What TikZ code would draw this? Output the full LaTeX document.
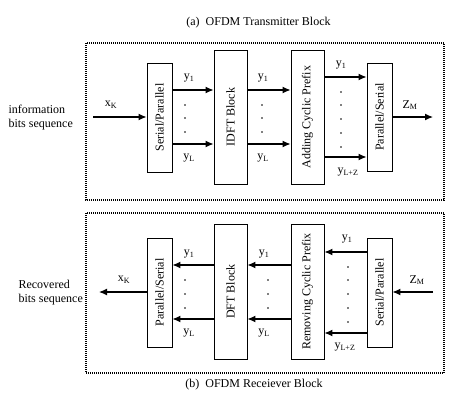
\documentclass[tikz,border=0pt]{standalone}
\usepackage{fontspec}
\setmainfont{Liberation Serif}
\usetikzlibrary{arrows.meta}

\begin{document}
\begin{tikzpicture}[x=1pt, y=-1pt, font=\fontsize{12}{14}\selectfont,
    block/.style={draw, line width=0.9pt, inner sep=0pt},
    flow/.style={-{Latex[length=8pt,width=7pt]}, line width=1.2pt},
    frame/.style={draw, dash pattern=on 1pt off 1pt, line width=1.2pt}]
    \useasboundingbox (0,0) rectangle (474,408);

    % (a) transmitter
    \node (titlea) at (258.5,23) {(a)\ \ OFDM Transmitter Block};
    \draw[frame] (86,43) rectangle (444,200);
    \node (info) [anchor=west, align=left] at (5,118) {information\\bits sequence};

    \node (sp) [block, minimum width=25pt, minimum height=109pt] at (159.5,117.5) {\rotatebox{90}{Serial/Parallel}};
    \node (idft) [block, minimum width=33pt, minimum height=134pt] at (230.5,117) {\rotatebox{90}{IDFT Block}};
    \node (acp) [block, minimum width=33pt, minimum height=134pt] at (307.5,117) {\rotatebox{90}{Adding Cyclic Prefix}};
    \node (ps) [block, minimum width=25pt, minimum height=108pt] at (379.5,117) {\rotatebox{90}{Parallel/Serial}};

    \coordinate (ain) at (93,117);
    \coordinate (aout) at (433,117);
    \coordinate (a1) at (0,90);
    \coordinate (aL) at (0,144);
    \coordinate (b1) at (0,77);
    \coordinate (bL) at (0,157);

    \draw[flow] (ain) -- (ain -| sp.west);
    \draw[flow] (sp.east |- a1) -- (idft.west |- a1);
    \draw[flow] (sp.east |- aL) -- (idft.west |- aL);
    \draw[flow] (idft.east |- a1) -- (acp.west |- a1);
    \draw[flow] (idft.east |- aL) -- (acp.west |- aL);
    \draw[flow] (acp.east |- b1) -- (ps.west |- b1);
    \draw[flow] (acp.east |- bL) -- (ps.west |- bL);
    \draw[flow] (ps.east |- aout) -- (aout);

    \node (xka) at (111,105) {x\textsubscript{K}};
    \node (zma) at (410,105) {Z\textsubscript{M}};
    \node (ya1) at (189,78) {y\textsubscript{1}};
    \node (yaL) at (189,158) {y\textsubscript{L}};
    \node (yb1) at (263,78) {y\textsubscript{1}};
    \node (ybL) at (263,158) {y\textsubscript{L}};
    \node (yc1) at (341,65) {y\textsubscript{1}};
    \node (ycL) at (348,172) {y\textsubscript{L+Z}};
    \foreach \y in {105,118,132} {
        \fill (185,\y) circle (0.9);
        \fill (262,\y) circle (0.9);
    }
    \foreach \y in {92,105,119,133,147}
        \fill (341,\y) circle (0.9);

    % (b) receiver
    \node (titleb) at (254,385) {(b)\ \ OFDM Receiever Block};
    \draw[frame] (86,213) rectangle (444,373);
    \node (recov) [anchor=west, align=left] at (15,293) {Recovered\\bits sequence};

    \node (ps2) [block, minimum width=25pt, minimum height=109pt] at (159.5,292.5) {\rotatebox{90}{Parallel/Serial}};
    \node (dft) [block, minimum width=33pt, minimum height=135pt] at (230.5,291.5) {\rotatebox{90}{DFT Block}};
    \node (rcp) [block, minimum width=33pt, minimum height=135pt] at (307.5,291.5) {\rotatebox{90}{Removing Cyclic Prefix}};
    \node (sp2) [block, minimum width=25pt, minimum height=109pt] at (379.5,292.5) {\rotatebox{90}{Serial/Parallel}};

    \coordinate (rin) at (433,292);
    \coordinate (rout) at (99,292);
    \coordinate (c1) at (0,265);
    \coordinate (cL) at (0,319);
    \coordinate (d1) at (0,252);
    \coordinate (dL) at (0,333);

    \draw[flow] (rin) -- (rin -| sp2.east);
    \draw[flow] (sp2.west |- d1) -- (rcp.east |- d1);
    \draw[flow] (sp2.west |- dL) -- (rcp.east |- dL);
    \draw[flow] (rcp.west |- c1) -- (dft.east |- c1);
    \draw[flow] (rcp.west |- cL) -- (dft.east |- cL);
    \draw[flow] (dft.west |- c1) -- (ps2.east |- c1);
    \draw[flow] (dft.west |- cL) -- (ps2.east |- cL);
    \draw[flow] (ps2.west |- rout) -- (rout);

    \node (zmb) at (417,280) {Z\textsubscript{M}};
    \node (xkb) at (124,280) {x\textsubscript{K}};
    \node (yd1) at (347,239) {y\textsubscript{1}};
    \node (ydL) at (345,347) {y\textsubscript{L+Z}};
    \node (ye1) at (264,254) {y\textsubscript{1}};
    \node (yeL) at (264,333) {y\textsubscript{L}};
    \node (yf1) at (189,254) {y\textsubscript{1}};
    \node (yfL) at (189,333) {y\textsubscript{L}};
    \foreach \y in {280,294,308} {
        \fill (185,\y) circle (0.9);
        \fill (268,\y) circle (0.9);
    }
    \foreach \y in {267,280,294,308,322}
        \fill (348,\y) circle (0.9);
\end{tikzpicture}
\end{document}
